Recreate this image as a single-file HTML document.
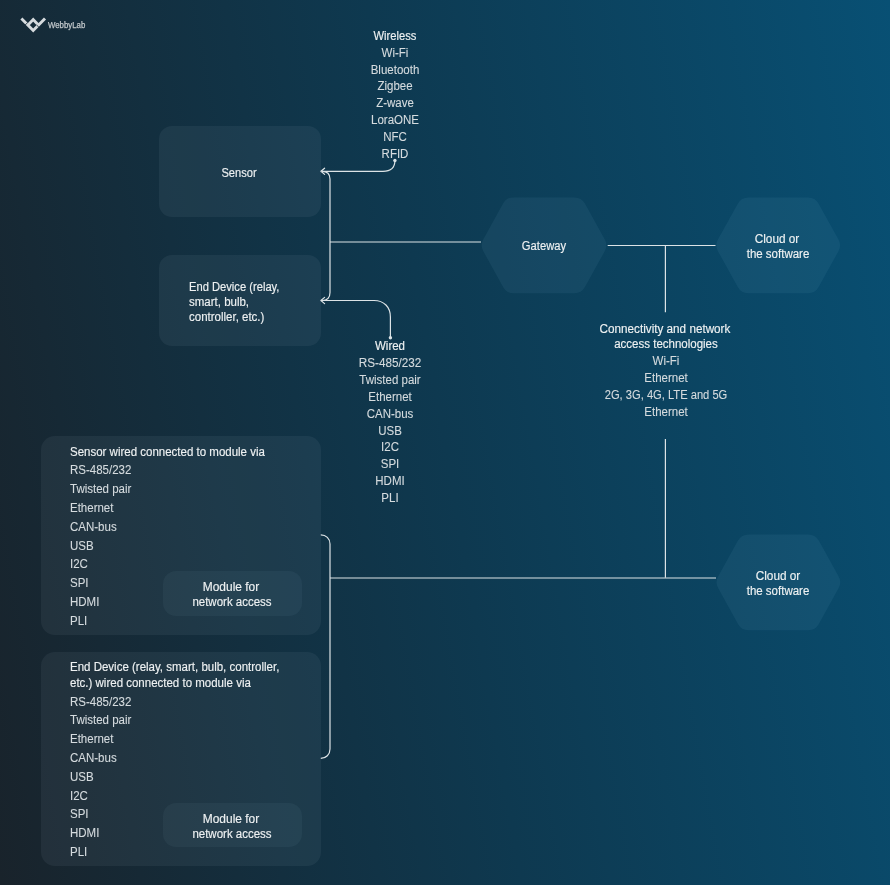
<!DOCTYPE html>
<html><head><meta charset="utf-8"><style>
html,body{margin:0;padding:0}
body{width:890px;height:885px;overflow:hidden;position:relative;
background:linear-gradient(80deg, rgb(25,35,43) 0%, rgb(14,57,80) 50%, rgb(8,80,116) 100%);
font-family:"Liberation Sans",sans-serif;}
.box{position:absolute;background:rgba(200,225,245,0.062);border-radius:13px}
.mod{background:rgba(170,210,235,0.05)}
.t,.h{position:absolute;font-size:12px;line-height:14px;white-space:nowrap;color:#d5dbde;-webkit-text-stroke:0.1px #d5dbde}
.h{color:#eef1f2;-webkit-text-stroke:0.15px #eef1f2}
.c{width:300px;text-align:center}
.logo{position:absolute;left:47.6px;top:19.6px;font-size:8.7px;line-height:10px;font-weight:normal;color:#c3c9cc;transform:scaleX(0.9);transform-origin:0 0;-webkit-text-stroke:0.25px #c3c9cc}
svg{position:absolute;left:0;top:0}
.wrap{position:absolute;left:0;top:0;width:890px;height:885px;will-change:transform}
</style></head><body>
<div class="box" style="left:159px;top:126px;width:162px;height:91px"></div>
<div class="box" style="left:159px;top:255px;width:162px;height:91px"></div>
<div class="box" style="left:40.5px;top:435.5px;width:280.5px;height:199.5px;border-radius:14px"></div>
<div class="box" style="left:40.5px;top:652px;width:280.5px;height:214px;border-radius:14px"></div>
<div class="box mod" style="left:163px;top:571px;width:139px;height:45px"></div>
<div class="box mod" style="left:163px;top:803px;width:139px;height:44px"></div>
<svg width="890" height="885" viewBox="0 0 890 885">
<path d="M483.21,251.11 A12,12 0 0 1 483.21,239.49 L503.07,203.59 A12,12 0 0 1 513.58,197.40 L574.42,197.40 A12,12 0 0 1 584.93,203.59 L604.79,239.49 A12,12 0 0 1 604.79,251.11 L584.93,287.01 A12,12 0 0 1 574.42,293.20 L513.58,293.20 A12,12 0 0 1 503.07,287.01 Z" fill="rgba(150,210,240,0.065)"/><path d="M717.91,251.16 A12,12 0 0 1 717.91,239.54 L737.77,203.64 A12,12 0 0 1 748.28,197.45 L808.12,197.45 A12,12 0 0 1 818.63,203.64 L838.49,239.54 A12,12 0 0 1 838.49,251.16 L818.63,287.06 A12,12 0 0 1 808.12,293.25 L748.28,293.25 A12,12 0 0 1 737.77,287.06 Z" fill="rgba(150,210,240,0.065)"/><path d="M718.11,588.11 A12,12 0 0 1 718.11,576.49 L737.97,540.59 A12,12 0 0 1 748.48,534.40 L808.32,534.40 A12,12 0 0 1 818.83,540.59 L838.69,576.49 A12,12 0 0 1 838.69,588.11 L818.83,624.01 A12,12 0 0 1 808.32,630.20 L748.48,630.20 A12,12 0 0 1 737.97,624.01 Z" fill="rgba(150,210,240,0.065)"/>
<path d="M394.9,160.5 C394.9,168 390,171.3 383,171.3 L321.5,171.3" fill="none" stroke="#dce3e6" stroke-width="1.2"/>
<path d="M324.6,168.2 L320.9,171.3 L324.6,174.4" fill="none" stroke="#dce3e6" stroke-width="1.2" stroke-linejoin="round" stroke-linecap="round"/>
<path d="M322,171.3 C327,171.3 330,174 330,179 L330,292.5 C330,297.5 327,300.5 322,300.5 L374,300.5 C384,300.5 390.4,307 390.4,317 L390.4,337.7" fill="none" stroke="#dce3e6" stroke-width="1.2"/>
<path d="M324.6,297.4 L320.9,300.5 L324.6,303.6" fill="none" stroke="#dce3e6" stroke-width="1.2" stroke-linejoin="round" stroke-linecap="round"/>
<circle cx="394.9" cy="160.5" r="1.7" fill="#dce3e6"/>
<circle cx="390.4" cy="337.7" r="1.7" fill="#dce3e6"/>
<path d="M330,242 L481,242" stroke="#dce3e6" stroke-width="1.2"/>
<path d="M607.7,245.5 L715.5,245.5 M665.4,245.5 L665.4,312.3 M665.4,438.9 L665.4,577.8" stroke="#dce3e6" stroke-width="1.2" fill="none"/>
<path d="M320.8,534.8 C326,534.8 330,538.5 330,544 L330,749 C330,754.5 326,758.4 320.8,758.4 M330,578 L716,578" stroke="#dce3e6" stroke-width="1.2" fill="none"/>
<path d="M21.4,18.5 L33.2,30.4 L45,18.5 M27.5,25.6 L33.2,19.6 L38.9,25.6" stroke="#d6dbde" stroke-width="2.9" fill="none"/>
<path d="M24.9,25.3 L27.6,22.6 M36.6,25.0 L39.3,27.7" stroke="#1a2d3b" stroke-width="0.9" fill="none"/>

</svg>
<div class="wrap"><div class="logo">WebbyLab</div>
<div class="h c" style="left:244.50px;top:28.80px;transform:scaleX(0.9340)">Wireless</div>
<div class="t c" style="left:244.50px;top:45.67px;transform:scaleX(0.9580)">Wi-Fi</div>
<div class="t c" style="left:244.50px;top:62.54px;transform:scaleX(0.9580)">Bluetooth</div>
<div class="t c" style="left:244.50px;top:79.41px;transform:scaleX(0.9580)">Zigbee</div>
<div class="t c" style="left:244.50px;top:96.28px;transform:scaleX(0.9580)">Z-wave</div>
<div class="t c" style="left:244.50px;top:113.15px;transform:scaleX(0.9580)">LoraONE</div>
<div class="t c" style="left:244.50px;top:130.02px;transform:scaleX(0.9580)">NFC</div>
<div class="t c" style="left:244.50px;top:146.89px;transform:scaleX(0.9580)">RFID</div>
<div class="h c" style="left:240.20px;top:339.10px;transform:scaleX(0.9580)">Wired</div>
<div class="t c" style="left:240.20px;top:355.98px;transform:scaleX(0.9772)">RS-485/232</div>
<div class="t c" style="left:240.40px;top:372.86px;transform:scaleX(0.9580)">Twisted pair</div>
<div class="t c" style="left:240.40px;top:389.74px;transform:scaleX(0.9580)">Ethernet</div>
<div class="t c" style="left:240.40px;top:406.62px;transform:scaleX(0.9580)">CAN-bus</div>
<div class="t c" style="left:240.40px;top:423.50px;transform:scaleX(0.9580)">USB</div>
<div class="t c" style="left:240.40px;top:440.38px;transform:scaleX(0.9580)">I2C</div>
<div class="t c" style="left:240.40px;top:457.26px;transform:scaleX(0.9580)">SPI</div>
<div class="t c" style="left:240.40px;top:474.14px;transform:scaleX(0.9580)">HDMI</div>
<div class="t c" style="left:240.40px;top:491.02px;transform:scaleX(0.9580)">PLI</div>
<div class="h c" style="left:514.50px;top:321.90px;transform:scaleX(0.9752)">Connectivity and network</div>
<div class="h c" style="left:515.80px;top:336.60px;transform:scaleX(0.9580)">access technologies</div>
<div class="t c" style="left:515.50px;top:353.90px;transform:scaleX(0.9580)">Wi-Fi</div>
<div class="t c" style="left:515.50px;top:370.77px;transform:scaleX(0.9580)">Ethernet</div>
<div class="t c" style="left:515.90px;top:387.64px;transform:scaleX(0.9293)">2G, 3G, 4G, LTE and 5G</div>
<div class="t c" style="left:515.50px;top:404.51px;transform:scaleX(0.9580)">Ethernet</div>
<div class="h c" style="left:89.10px;top:165.70px;transform:scaleX(0.9245)">Sensor</div>
<div class="h" style="left:188.80px;top:279.70px;transform:scaleX(0.9312);transform-origin:0 0">End Device (relay,</div>
<div class="h" style="left:188.80px;top:294.90px;transform:scaleX(0.9580);transform-origin:0 0">smart, bulb,</div>
<div class="h" style="left:188.80px;top:310.10px;transform:scaleX(0.9580);transform-origin:0 0">controller, etc.)</div>
<div class="h c" style="left:394.00px;top:239.20px;transform:scaleX(0.9350)">Gateway</div>
<div class="h c" style="left:626.80px;top:231.70px;transform:scaleX(0.9819)">Cloud or</div>
<div class="h c" style="left:628.40px;top:246.70px;transform:scaleX(0.9580)">the software</div>
<div class="h c" style="left:627.50px;top:568.90px;transform:scaleX(0.9819)">Cloud or</div>
<div class="h c" style="left:628.20px;top:584.20px;transform:scaleX(0.9580)">the software</div>
<div class="h" style="left:70.20px;top:444.50px;transform:scaleX(0.9580);transform-origin:0 0">Sensor wired connected to module via</div>
<div class="t" style="left:70.20px;top:463.30px;transform:scaleX(0.9580);transform-origin:0 0">RS-485/232</div>
<div class="t" style="left:70.20px;top:482.10px;transform:scaleX(0.9580);transform-origin:0 0">Twisted pair</div>
<div class="t" style="left:70.20px;top:500.90px;transform:scaleX(0.9580);transform-origin:0 0">Ethernet</div>
<div class="t" style="left:70.20px;top:519.70px;transform:scaleX(0.9580);transform-origin:0 0">CAN-bus</div>
<div class="t" style="left:70.20px;top:538.50px;transform:scaleX(0.9580);transform-origin:0 0">USB</div>
<div class="t" style="left:70.20px;top:557.30px;transform:scaleX(0.9580);transform-origin:0 0">I2C</div>
<div class="t" style="left:70.20px;top:576.10px;transform:scaleX(0.9580);transform-origin:0 0">SPI</div>
<div class="t" style="left:70.20px;top:594.90px;transform:scaleX(0.9580);transform-origin:0 0">HDMI</div>
<div class="t" style="left:70.20px;top:613.70px;transform:scaleX(0.9580);transform-origin:0 0">PLI</div>
<div class="h c" style="left:81.00px;top:580.30px;transform:scaleX(0.9963)">Module for</div>
<div class="h c" style="left:82.20px;top:595.10px;transform:scaleX(0.9580)">network access</div>
<div class="h" style="left:70.00px;top:660.20px;transform:scaleX(0.9580);transform-origin:0 0">End Device (relay, smart, bulb, controller,</div>
<div class="h" style="left:70.00px;top:675.70px;transform:scaleX(0.9580);transform-origin:0 0">etc.) wired connected to module via</div>
<div class="t" style="left:70.20px;top:694.60px;transform:scaleX(0.9580);transform-origin:0 0">RS-485/232</div>
<div class="t" style="left:70.20px;top:713.40px;transform:scaleX(0.9580);transform-origin:0 0">Twisted pair</div>
<div class="t" style="left:70.20px;top:732.20px;transform:scaleX(0.9580);transform-origin:0 0">Ethernet</div>
<div class="t" style="left:70.20px;top:751.00px;transform:scaleX(0.9580);transform-origin:0 0">CAN-bus</div>
<div class="t" style="left:70.20px;top:769.80px;transform:scaleX(0.9580);transform-origin:0 0">USB</div>
<div class="t" style="left:70.20px;top:788.60px;transform:scaleX(0.9580);transform-origin:0 0">I2C</div>
<div class="t" style="left:70.20px;top:807.40px;transform:scaleX(0.9580);transform-origin:0 0">SPI</div>
<div class="t" style="left:70.20px;top:826.20px;transform:scaleX(0.9580);transform-origin:0 0">HDMI</div>
<div class="t" style="left:70.20px;top:845.00px;transform:scaleX(0.9580);transform-origin:0 0">PLI</div>
<div class="h c" style="left:81.00px;top:811.70px;transform:scaleX(0.9963)">Module for</div>
<div class="h c" style="left:82.20px;top:826.50px;transform:scaleX(0.9580)">network access</div></div>
</body></html>
